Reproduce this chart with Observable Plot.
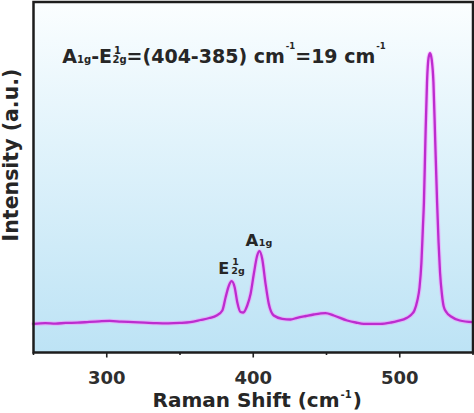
<!DOCTYPE html>
<html>
<head>
<meta charset="utf-8">
<script src="https://cdn.jsdelivr.net/npm/d3@7"></script>
<script src="https://cdn.jsdelivr.net/npm/@observablehq/plot@0.6"></script>
<style>
  html, body { margin: 0; padding: 0; background: #fff; }
  svg { display: block; }
</style>
</head>
<body>
<div id="chart"></div>
<script>
// Raman shift (cm^-1) and intensity (a.u.)
const shift = [
  250, 258, 265, 272, 280, 288, 295, 302, 310, 318, 326, 334, 342, 350, 357, 364,
  370, 375, 378.9, 381.1, 383.4, 385.2, 387.3, 389.1, 391.3, 393.2, 395.9, 398.2,
  400.4, 402.7, 404.3, 406.1, 408.4, 410.6, 414, 419.8, 425.4, 430, 436, 441.3,
  449.3, 455, 464.1, 470, 475.4, 486.8, 494, 498.2, 505, 508,
  510, 512, 513.5, 514.8, 515.8, 516.5, 517.5, 518.6, 519.7, 520.7, 521.8, 523,
  524.2, 525.5, 526.5, 527.5, 528.8, 530, 532, 535, 541, 550
];
const intensity = [
  28.7, 29.3, 28.9, 29.6, 29.8, 30.6, 31.2, 31.6, 30.8, 30.4, 29.9, 29.4, 29.2, 29.6, 30.4, 32.5,
  34.5, 37, 42, 55, 67, 71.3, 65.3, 50.3, 40.5, 40, 47, 58.7,
  78.7, 97, 101.3, 93.7, 68.7, 48.7, 37, 33.7, 33, 34.7, 36.5, 38,
  39.3, 37, 32, 30, 28.7, 28.7, 30, 31.3, 34.7, 38,
  42, 52, 65, 90, 125, 150, 212, 270, 295, 299.3, 293, 270,
  212, 150, 110, 80, 58, 46, 40, 36, 32, 30.3
];
const majorTicks = [300, 400, 500];
const minorTicks = [250, 350, 450, 550];
// peak labels: x position, y baseline, main letter, sub, sup
const peakLabels = [
  {x: 385.5, y: 78, main: "E", sub: "2g", sup: "1"},
  {x: 404.2, y: 106.5, main: "A", sub: "1g", sup: null}
];
const annotationPos = {x: 270, y: 289};
const xLabel = "Raman Shift (cm";
const yLabel = "Intensity (a.u.)";

const data = shift.map((x, i) => ({x, y: intensity[i]}));
const FONT = "DejaVu Sans";
const INK = "#262626";

function addTspans(textSel, parts) {
  for (const p of parts) {
    const t = textSel.append("tspan").text(p.t);
    if (p.size) t.attr("font-size", p.size);
    if (p.dx) t.attr("dx", p.dx);
    if (p.dy) t.attr("dy", p.dy);
  }
}

function background(index, scales, values, dims) {
  const g = d3.create("svg:g");
  const defs = g.append("defs");
  const lg = defs.append("linearGradient").attr("id", "bgGrad")
    .attr("x1", 0).attr("y1", 0).attr("x2", 0).attr("y2", 1);
  lg.append("stop").attr("offset", "0%").attr("stop-color", "#fbfeff");
  lg.append("stop").attr("offset", "40%").attr("stop-color", "#e1f3fb");
  lg.append("stop").attr("offset", "100%").attr("stop-color", "#bde3f5");
  g.append("rect")
    .attr("x", dims.marginLeft).attr("y", dims.marginTop)
    .attr("width", dims.width - dims.marginLeft - dims.marginRight)
    .attr("height", dims.height - dims.marginTop - dims.marginBottom)
    .attr("fill", "url(#bgGrad)");
  return g.node();
}

function texts(index, scales, values, dims) {
  const g = d3.create("svg:g")
    .attr("font-family", FONT).attr("font-weight", "bold").attr("fill", INK)
    .style("white-space", "pre");
  // main annotation
  const a = g.append("text")
    .attr("x", scales.x(annotationPos.x)).attr("y", scales.y(annotationPos.y))
    .attr("text-anchor", "start")
    .attr("font-size", 19);
  addTspans(a, [
    {t: "A"},
    {t: "1g", size: 10},
    {t: "-E", size: 19},
    {t: "1", size: 10, dx: 2, dy: -9},
    {t: "2g", size: 10, dx: -8.5, dy: 9},
    {t: "=(404-385) cm", size: 19},
    {t: "-1", size: 8.5, dx: 1, dy: -14},
    {t: "=19 cm", size: 19, dy: 14},
    {t: "-1", size: 8.5, dx: 1, dy: -14}
  ]);
  // peak labels
  for (const p of peakLabels) {
    const t = g.append("text")
      .attr("x", scales.x(p.x)).attr("y", scales.y(p.y))
      .attr("text-anchor", "middle").attr("font-size", p.main === "A" ? 16.5 : 16);
    if (p.sup) {
      addTspans(t, [
        {t: p.main},
        {t: p.sup, size: 9.5, dx: 3, dy: -9.5},
        {t: p.sub, size: 9.5, dx: -7.6, dy: 9.5}
      ]);
    } else {
      addTspans(t, [{t: p.main}, {t: p.sub, size: 9.5, dx: 0.5}]);
    }
  }
  // x axis label
  const xl = g.append("text")
    .attr("x", scales.x(403)).attr("y", dims.height - 6)
    .attr("text-anchor", "middle").attr("font-size", 20);
  addTspans(xl, [
    {t: xLabel},
    {t: "-1", size: 10, dx: 1, dy: -9},
    {t: ")", size: 20, dx: 1, dy: 9}
  ]);
  // y axis label
  g.append("text")
    .attr("transform", "translate(18,155) rotate(-90)")
    .attr("text-anchor", "middle").attr("font-size", 20.5)
    .text(yLabel);
  return g.node();
}

const chart = Plot.plot({
  width: 474,
  height: 413,
  marginLeft: 33,
  marginRight: 1.5,
  marginTop: 1.5,
  marginBottom: 61,
  x: {domain: [250, 550]},
  y: {domain: [0, 350.5], axis: null},
  style: {background: "white", fontFamily: FONT, fontWeight: "bold", overflow: "visible"},
  marks: [
    background,
    Plot.line(data, {x: "x", y: "y", stroke: "#ff80ff", strokeWidth: 4.4, strokeOpacity: 0.45, curve: "monotone-x"}),
    Plot.line(data, {x: "x", y: "y", stroke: "#bc2ccf", strokeWidth: 2.3, curve: "monotone-x"}),
    Plot.axisX({ticks: minorTicks, tickSize: 3, tickFormat: () => "", label: null, stroke: "#222", strokeWidth: 1.6}),
    Plot.axisX({ticks: majorTicks, tickSize: 5.5, tickPadding: 12.8, tickFormat: d => String(d),
      label: null, fontSize: 18, fontWeight: "bold", fill: "#2e2e2e", stroke: "#222", strokeWidth: 1.6}),
    Plot.frame({stroke: "#1d1d1d", strokeWidth: 2.5}),
    texts
  ]
});
document.getElementById("chart").appendChild(chart);
</script>
</body>
</html>
